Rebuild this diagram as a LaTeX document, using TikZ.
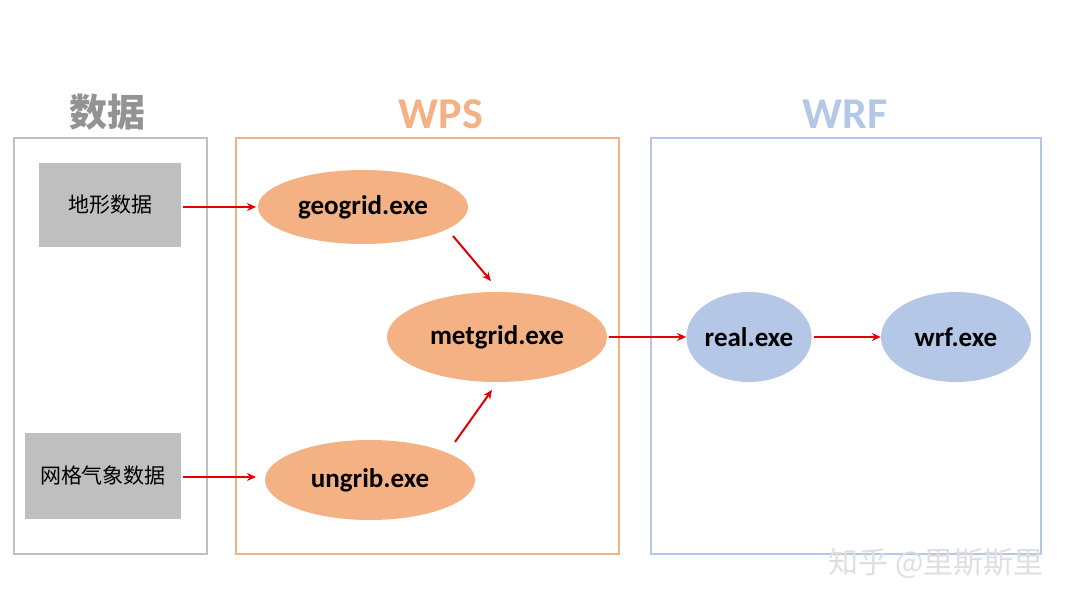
\documentclass[tikz,border=0pt]{standalone}
\usepackage{fontspec}
\setmainfont{Carlito}
\newfontfamily\cjk{Noto Sans CJK SC}
\usetikzlibrary{shapes.geometric,arrows.meta}
\definecolor{og}{HTML}{F4B183}
\definecolor{bl}{HTML}{B4C7E7}
\definecolor{gr}{HTML}{BFBFBF}
\begin{document}
\begin{tikzpicture}[x=1pt,y=-1pt,
 frame/.style={draw,line width=2pt},
 dat/.style={fill=gr,font=\cjk\fontsize{21}{24}\selectfont},
 ell/.style={ellipse,inner sep=0pt,font=\bfseries\fontsize{27}{30}\selectfont},
 arr/.style={-{Stealth[length=9pt,width=8pt]},red!90!black,line width=2pt}]
\useasboundingbox (0,0) rectangle (1080,608);
\draw[frame,gr] (14,138) rectangle (207,554);
\draw[frame,og] (236,138) rectangle (619,554);
\draw[frame,bl] (651,138) rectangle (1041,554);
\node[text=gray!85,font=\cjk\bfseries\fontsize{38}{42}\selectfont] (t1) at (107,112) {数据};
\node[text=og,font=\bfseries\fontsize{44}{48}\selectfont] (t2) at (441,114) {WPS};
\node[text=bl,font=\bfseries\fontsize{44}{48}\selectfont] (t3) at (845,114) {WRF};
\node[dat,minimum width=142pt,minimum height=84pt] (d1) at (110,205) {地形数据};
\node[dat,minimum width=156pt,minimum height=86pt] (d2) at (103,476) {网格气象数据};
\node[ell,fill=og,minimum width=210pt,minimum height=74pt] (geo) at (363,207) {geogrid.exe};
\node[ell,fill=og,minimum width=220pt,minimum height=90pt] (met) at (497,337) {metgrid.exe};
\node[ell,fill=og,minimum width=210pt,minimum height=80pt] (ung) at (370,480) {ungrib.exe};
\node[ell,fill=bl,minimum width=120pt,minimum height=90pt] (real) at (749,337) {real.exe};
\node[ell,fill=bl,minimum width=150pt,minimum height=90pt] (wrf) at (956,337) {wrf.exe};
\coordinate (g1) at (453,236); \coordinate (g2) at (491,281);
\coordinate (u1) at (455,442); \coordinate (u2) at (492,390);
\draw[arr] (183,207) coordinate (a1) -- (256,207) coordinate (b1);
\draw[arr] (183,477) coordinate (a2) -- (256,477) coordinate (b2);
\draw[arr] (g1) -- (g2);
\draw[arr] (u1) -- (u2);
\draw[arr] ([xshift=2pt]met.east) -- (real.west);
\draw[arr] ([xshift=2pt]real.east) -- (wrf.west);
\node[font=\cjk\fontsize{30}{34}\selectfont,text=gray!25] (wm) at (936,563) {知乎 @里斯斯里};
\end{tikzpicture}
\end{document}
